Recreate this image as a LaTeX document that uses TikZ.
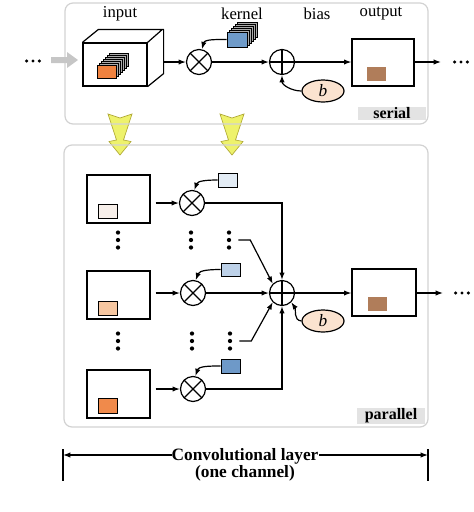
\documentclass[tikz,border=0pt]{standalone}
\usepackage{fontspec}
\setmainfont{Liberation Serif}
\usetikzlibrary{arrows.meta,fit,shapes.geometric}
\definecolor{cubeor}{HTML}{F0823F}
\definecolor{kblue}{HTML}{6F9BC9}
\definecolor{obrown}{HTML}{B07D5A}
\definecolor{bfill}{HTML}{FBE3CF}
\definecolor{cA}{HTML}{F7EFEA}
\definecolor{cB}{HTML}{F6C6A0}
\definecolor{cC}{HTML}{F08A4B}
\definecolor{kA}{HTML}{E3ECF5}
\definecolor{kB}{HTML}{BDD1E8}
\definecolor{kC}{HTML}{6E99C8}
\definecolor{yel}{HTML}{EEF26C}
\newcommand{\stackcube}[8]{%
  \foreach \i in {#7,...,1}{\draw[fill=gray!65,line width=0.4pt] ({#1+#8*\i},{#2-#8*\i}) rectangle ({#3+#8*\i},{#4-#8*\i});}
  \node[draw,line width=0.6pt,fill=#5,inner sep=0pt,fit={(#1,#2)(#3,#4)}] (#6) {};}
\begin{document}
\begin{tikzpicture}[x=0.75pt,y=-0.75pt,line width=0.9pt,
  arr/.style={-{Latex[length=5.5pt,width=4pt]}},
  ot/.style={circle,draw,minimum size=18.75pt,inner sep=0pt,
    path picture={\draw (path picture bounding box.north west)--(path picture bounding box.south east)
      (path picture bounding box.north east)--(path picture bounding box.south west);}},
  op/.style={circle,draw,minimum size=18.75pt,inner sep=0pt,
    path picture={\draw (path picture bounding box.north)--(path picture bounding box.south)
      (path picture bounding box.west)--(path picture bounding box.east);}},
  box/.style={draw,inner sep=0pt,fill=white},
  sq/.style={draw,line width=0.6pt,inner sep=0pt},
  panel/.style={draw=gray!35,line width=0.9pt,rounded corners=6pt},
  tag/.style={fill=gray!22,inner sep=0pt,font=\fontsize{12}{14}\selectfont\bfseries},
  lbl/.style={font=\fontsize{12.5}{15}\selectfont},
  bnode/.style={ellipse,draw,fill=bfill,minimum width=31.5pt,minimum height=16.5pt,inner sep=0pt,font=\fontsize{13}{15}\selectfont\itshape},
  vdot/.style={rectangle,inner sep=0pt,minimum width=5pt,minimum height=16pt,
    path picture={\fill (path picture bounding box.center) circle (1.6pt)
      ([yshift=5.6pt]path picture bounding box.center) circle (1.6pt)
      ([yshift=-5.6pt]path picture bounding box.center) circle (1.6pt);}},
  hdot/.style={rectangle,inner sep=0pt,minimum width=15pt,minimum height=5pt,
    path picture={\fill (path picture bounding box.center) circle (1.3pt)
      ([xshift=4.8pt]path picture bounding box.center) circle (1.3pt)
      ([xshift=-4.8pt]path picture bounding box.center) circle (1.3pt);}}
]
\useasboundingbox (0,0) rectangle (474,512);

% yellow arrows
\foreach \cx in {120,232}{
  \filldraw[fill=yel,draw=olive!70,line width=0.5pt] ({\cx-12},114) -- (\cx,118) -- ({\cx+12},114) -- ({\cx+3.5},140) -- ({\cx+11},141.5) -- (\cx,155) -- ({\cx-11},141.5) -- ({\cx-3.5},140) -- cycle;}

% panels
\draw[panel] (65,3) rectangle (428,124);
\draw[panel] (64,145) rectangle (428,427);
\node[tag,fit={(358,107)(426,120)}] (tagS) {};
\node at (tagS.center) [font=\fontsize{12}{14}\selectfont\bfseries] {serial};
\node[tag,fit={(357,408)(425,424)}] (tagP) {};
\node at (tagP.center) [font=\fontsize{12}{14}\selectfont\bfseries] {parallel};

% ---------- serial ----------
\node[lbl] at (120,14) {input};
\node[lbl] at (242,14) {kernel};
\node[lbl] at (317,14) {bias};
\node[lbl] at (381,14) {output};

\node[hdot] (ldots) at (33,61) {};
\fill[gray!45] (51,57) -- (67,57) -- (67,52) -- (78,60) -- (67,68) -- (67,63) -- (51,63) -- cycle;

\node[box,fit={(83,43)(147,86)}] (cube) {};
\draw (cube.north west) -- ++(16,-13) -- ++(64,0) -- (cube.north east)
      ([shift={(16,-13)}]cube.north east) -- ([shift={(16,-13)}]cube.south east) -- (cube.south east);
\stackcube{97}{65}{116}{78}{cubeor}{inc}{6}{2}
\coordinate (cubeout) at (163,62);

\node[ot] (ot0) at (199,62) {};
\stackcube{227}{32}{247}{47}{kblue}{k0}{5}{2}
\node[op] (op0) at (282,62) {};
\node[bnode] (b0) at (323,91) {b};
\node[box,fit={(352,39)(414,86)}] (out0) {};
\node[sq,fill=obrown,draw=none,fit={(367,67)(386,81)}] (o0s) {};
\coordinate (e0) at (441,62);
\node[hdot] (rdots0) at (461,62) {};

\draw[arr] (cubeout) -- (ot0);
\draw[arr] (k0.west) to[out=180,in=75] (ot0.77);
\draw[arr] (ot0) -- (op0);
\draw[arr] (b0.west) to[out=180,in=-90] (op0.south);
\draw[arr] (op0) -- (out0.west |- op0);
\draw[arr] (out0.east |- e0) -- (e0);

% ---------- parallel ----------
\node[box,fit={(87,175)(150,223)}] (in1) {};
\node[sq,fill=cA,fit={(98,204)(117,218)}] (s1) {};
\node[box,fit={(87,271)(150,319)}] (in2) {};
\node[sq,fill=cB,fit={(98,301)(117,315)}] (s2) {};
\node[box,fit={(87,370)(150,418)}] (in3) {};
\node[sq,fill=cC,fit={(98,398)(117,413)}] (s3) {};

\node[ot] (ot1) at (192,203) {};
\node[ot] (ot2) at (193,293) {};
\node[ot] (ot3) at (193,389) {};
\node[sq,fill=kA,fit={(218,173)(237,187)}] (k1) {};
\node[sq,fill=kB,fit={(221,263)(240,276)}] (k2) {};
\node[sq,fill=kC,fit={(221,359)(240,373)}] (k3) {};

\node[vdot] (d1a) at (118,240) {};
\node[vdot] (d1b) at (191,240) {};
\node[vdot] (d1c) at (229,240) {};
\node[vdot] (d2a) at (118,341) {};
\node[vdot] (d2b) at (192,341) {};
\node[vdot] (d2c) at (230,341) {};

\node[op] (op2) at (282,293) {};
\node[bnode] (b2) at (323,321) {b};
\node[box,fit={(352,269)(416,316)}] (out2) {};
\node[sq,fill=obrown,draw=none,fit={(368,297)(387,311)}] (o2s) {};
\coordinate (e2) at (443,293);
\node[hdot] (rdots2) at (462,293) {};

\draw[arr] ([xshift=3.75pt]in1.east |- ot1) -- (ot1);
\draw[arr] ([xshift=3.75pt]in2.east |- ot2) -- (ot2);
\draw[arr] ([xshift=3.75pt]in3.east |- ot3) -- (ot3);
\draw[arr] (k1.west) to[out=180,in=70] (ot1.80);
\draw[arr] (k2.west) to[out=180,in=70] (ot2.78);
\draw[arr] (k3.west) to[out=180,in=70] (ot3.80);
\draw[arr] (ot1.east) -| (op2.north);
\draw[arr] (ot2.east) -- (op2.west);
\draw[arr] (ot3.east) -| (op2.south);
\draw[arr] ([xshift=4pt]d1c.east) -- ++(12,0) -- (op2.135);
\draw[arr] ([xshift=4pt]d2c.east) -- ++(12,0) -- (op2.225);
\draw[arr] (b2.west) to[out=175,in=-55] (op2.-45);
\draw[arr] (op2.east) -- (out2.west |- op2);
\draw[arr] (out2.east |- e2) -- (e2);

% ---------- dimension ----------
\coordinate (bLt) at (63,449); \coordinate (bLb) at (63,481);
\coordinate (bRt) at (428,449); \coordinate (bRb) at (428,481);
\coordinate (bL) at (63,455); \coordinate (bR) at (428,455);
\draw (bLt) -- (bLb);
\draw (bRt) -- (bRb);
\node[align=center,font=\fontsize{13}{12.5}\selectfont\bfseries] (cl) at (245,465) {Convolutional layer\\(one channel)};
\coordinate (clL) at (172,455); \coordinate (clR) at (319,455);
\draw[arr] (clL) -- (bL);
\draw[arr] (clR) -- (bR);
\end{tikzpicture}
\end{document}
